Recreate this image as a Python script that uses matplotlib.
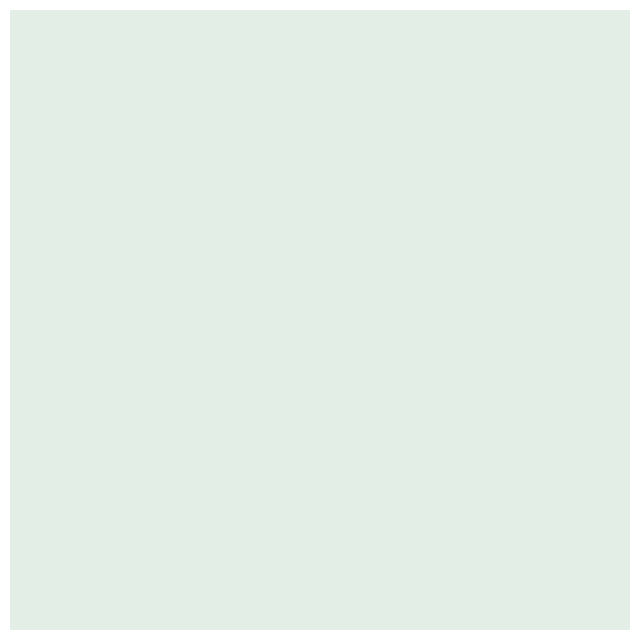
import matplotlib.pyplot as plt
from matplotlib.patches import Rectangle

values = [115.7, 10.4, 7.6, 5.8, 1.2, 1.4, 1.4]
headers = ["£115.7 million", "£10.4million", "£7.6 million", "£5.8 million",
           "£1.2 million", "£1.4 million", "£1.4 million"]
bodies = [
    "The core\nprogramme, contract\nwith providers\nmainly for maths,\nEnglish & ESOL",
    "Dynamic\nPurchasing\nSystem (niche\nand short-term\ninitiatives)",
    "Information,\nAdvice and\nGuidance",
    "Library",
    "Grants (Open\nUniversity/\nPrisoners\nEducation Trust)",
    "OFSTED",
    "Virtual\nCampus",
]
# pixel positions: dot inside slice, line end, text centre x, text top y
dots = [(398, 437), (245, 323), (248, 280), (285, 255), (300, 242), (310, 242), (318, 245)]
ends = [(470, 490), (190, 365), (200, 262), (182, 185), (300, 200), (440, 167), (487, 245)]
text_pos = [(525, 452), (97, 340), (118, 222), (157, 142), (320, 100), (492, 145), (540, 237)]

BG = "#e3efe6"
TEAL = "#43877f"
CX, CY, R = 320, 375, 140

plt.rcParams["font.family"] = ["Lato", "DejaVu Sans"]
fig = plt.figure(figsize=(6.4, 6.4), dpi=100, facecolor="white")
fig.patches.append(Rectangle((10 / 640, 10 / 640), 620 / 640, 620 / 640,
                             transform=fig.transFigure, facecolor=BG, edgecolor="none", zorder=0))

pie_ax = fig.add_axes([(CX - R) / 640, (640 - CY - R) / 640, 2 * R / 640, 2 * R / 640])
pie_ax.pie(values, startangle=90, counterclock=False, colors=[TEAL] * len(values),
           wedgeprops=dict(edgecolor="white", linewidth=1.2))
pie_ax.set_aspect("equal")

ov = fig.add_axes([0, 0, 1, 1])
ov.set_xlim(0, 640)
ov.set_ylim(640, 0)
ov.axis("off")
for (dx, dy), (ex, ey), (tx, ty), h, b in zip(dots, ends, text_pos, headers, bodies):
    ov.plot([dx, ex], [dy, ey], color="#1a1a1a", lw=0.9)
    ov.plot(dx, dy, "o", color="#1a1a1a", ms=3)
    ov.text(tx, ty, h, ha="center", va="top", fontsize=10.5, fontweight="bold", color="#1a1a1a")
    ov.text(tx, ty + 18, b, ha="center", va="top", fontsize=10.5, color="#1a1a1a", linespacing=1.25)

ov.text(33, 20, "How the prison education\nbudget is broken down, 2023", ha="left", va="top",
        fontsize=20, fontweight="bold", family="Liberation Serif", color="#111111", linespacing=1.15)
ov.text(33, 592, "Source: researchbriefings.files.parliament.uk/documents/\nCDP-2023-0146/CDP-2023-0146.pdf",
        ha="left", va="center", fontsize=8.5, color="#333333", linespacing=1.3)
ov.text(497, 604, "FE", ha="left", va="center", fontsize=17, fontweight="heavy", color="#d7141f")
ov.text(530, 604, "WEEK", ha="left", va="center", fontsize=17, fontweight="heavy", color="#222222")

fig.savefig("out.png", dpi=100, facecolor="white")
